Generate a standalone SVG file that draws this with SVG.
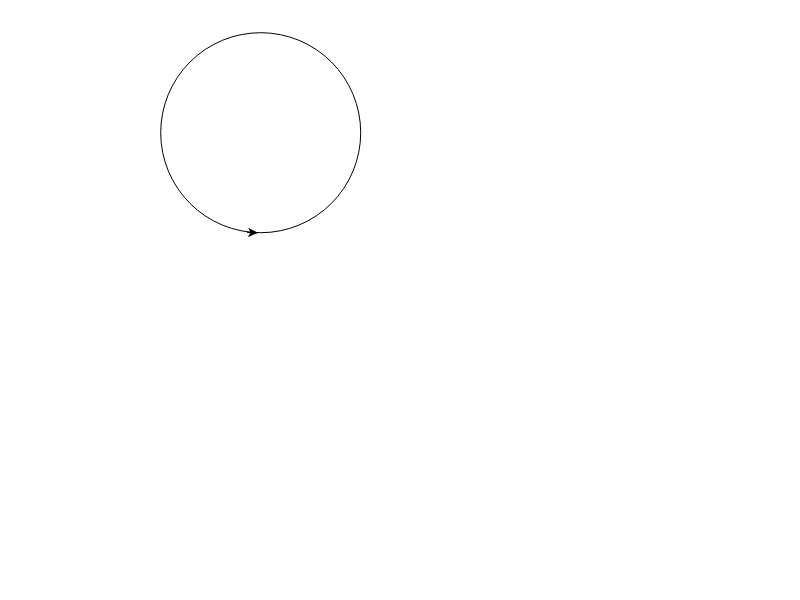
<svg xmlns="http://www.w3.org/2000/svg" width="800" height="600" viewBox="0 0 800 600">
<defs>
<style>.edge{fill:none;stroke:#000;stroke-width:1}</style>
<marker id="arr" markerUnits="userSpaceOnUse" markerWidth="12" markerHeight="12" viewBox="0 0 12 12" refX="11" refY="6" orient="auto">
<path d="M1,1.2 L11,6 L1,10.8 L3.5,6 Z" fill="#000"/>
</marker>
</defs>
<rect width="800" height="600" fill="#fff"/>
<g id="connectors">
<circle class="edge" cx="260.7" cy="132.7" r="100"/>
<path class="edge" d="M 247 232.4 L 258 232.7" stroke="none" marker-end="url(#arr)"/>
</g>
</svg>
